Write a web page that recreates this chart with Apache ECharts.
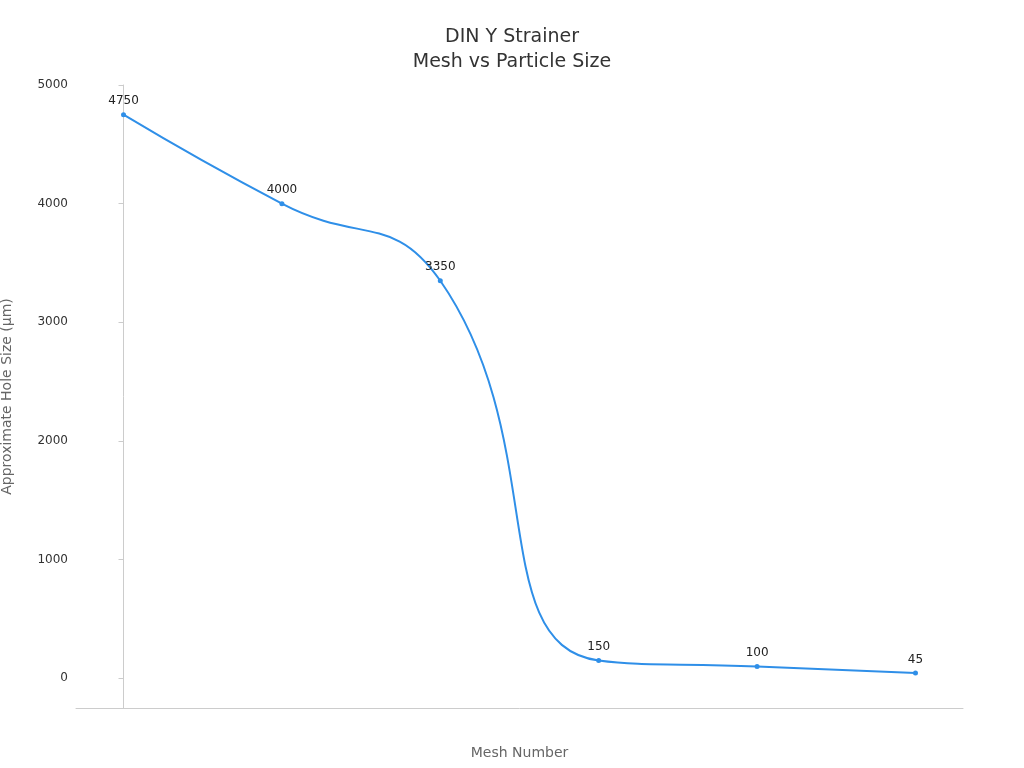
<!DOCTYPE html><html><head><meta charset="utf-8"><script src="https://cdn.jsdelivr.net/npm/echarts@6/dist/echarts.min.js"></script></head><body style="margin:0"><div id="c" style="width:1024px;height:768px"></div><script>
const categories=['4','5','6','100','150+','325'];
const holeSize=[4750,4000,3350,150,100,45];
const ch=echarts.init(document.getElementById('c'));
ch.setOption({
title:{text:'DIN Y Strainer\nMesh vs Particle Size',left:'center',top:20,textStyle:{fontSize:19,fontWeight:'normal',color:'#333',lineHeight:25,fontFamily:'DejaVu Sans'}},
grid:{left:76,right:61,top:85,bottom:60,containLabel:false,outerBoundsMode:'none'},
xAxis:{type:'value',min:-0.3,max:5.3,interval:1,minInterval:1,name:'Mesh Number',nameLocation:'middle',nameGap:38,nameTextStyle:{color:'#666',fontSize:14,fontFamily:'DejaVu Sans'},axisLine:{onZero:false,lineStyle:{color:'#ccc'}},axisTick:{show:false},splitLine:{show:false},axisLabel:{showMinLabel:false,showMaxLabel:false,formatter:v=>Number.isInteger(v)&&categories[v]!==undefined?categories[v]:'',color:'#333',fontSize:12,margin:12,fontFamily:'DejaVu Sans'}},
yAxis:{type:'value',min:-250,max:5000,name:'Approximate Hole Size (μm)',nameLocation:'middle',nameGap:62,nameTextStyle:{color:'#666',fontSize:14,fontFamily:'DejaVu Sans'},axisLine:{show:true,lineStyle:{color:'#ccc'}},axisTick:{show:true,lineStyle:{color:'#ccc'}},splitLine:{show:false},axisLabel:{showMinLabel:false,formatter:v=>String(v),color:'#333',fontSize:12,fontFamily:'DejaVu Sans'}},
series:[{type:'line',data:holeSize.map((v,i)=>[i,v]),smooth:0.5,symbol:'circle',symbolSize:5,itemStyle:{color:'#2f8fe8'},lineStyle:{color:'#2f8fe8',width:2},label:{show:true,position:'top',formatter:p=>p.value[1],color:'#222',fontSize:12,fontFamily:'DejaVu Sans'}}]
});
</script></body></html>
